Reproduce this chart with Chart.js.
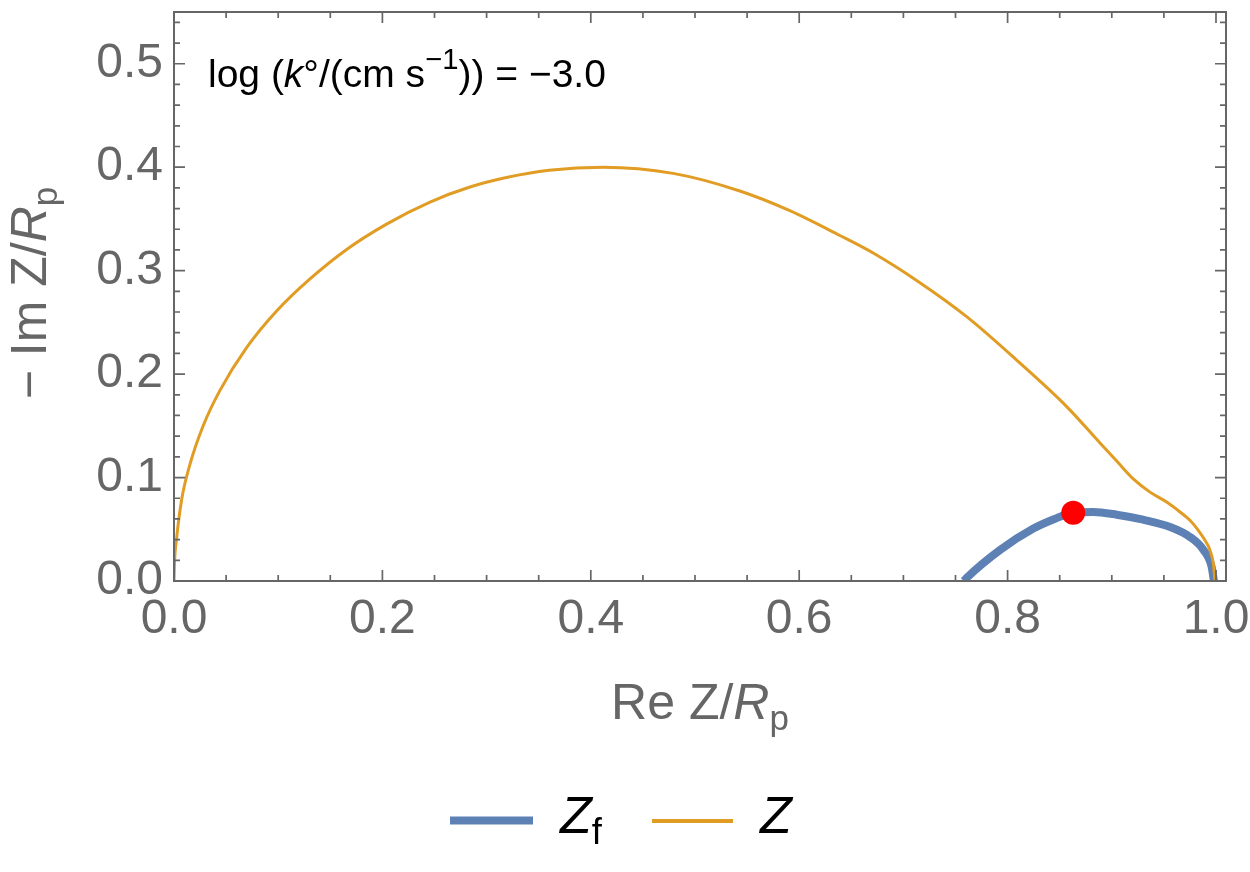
<!DOCTYPE html>
<html><head><meta charset="utf-8">
<script src="https://cdn.jsdelivr.net/npm/chart.js@4"></script>
<style>html,body{margin:0;padding:0;background:#fff}#wrap{width:1250px;height:872px}</style>
</head><body><div id="wrap"><canvas id="c" width="1250" height="872"></canvas></div>
<script>
// ---- data ----
const zRe = [0, 0.0005, 0.0026, 0.0074, 0.0154, 0.028, 0.044, 0.070, 0.0985, 0.1305, 0.1657, 0.204, 0.2457, 0.284, 0.319, 0.36, 0.412, 0.479, 0.543, 0.591, 0.639, 0.671, 0.7127, 0.7607, 0.8087, 0.8567, 0.8887, 0.9047, 0.9206, 0.9367, 0.9527, 0.9655, 0.975, 0.983, 0.9894, 0.9942, 0.9974, 0.999];
const zIm = [0, 0.018, 0.042, 0.079, 0.113, 0.150, 0.184, 0.226, 0.261, 0.292, 0.3205, 0.345, 0.3663, 0.3808, 0.390, 0.397, 0.400, 0.394, 0.377, 0.358, 0.334, 0.317, 0.2905, 0.2555, 0.2135, 0.1686, 0.1334, 0.116, 0.0987, 0.0859, 0.0763, 0.0667, 0.0587, 0.049, 0.0394, 0.0298, 0.017, 0];
const zfRe = [0.758, 0.7607, 0.7927, 0.8247, 0.845, 0.863, 0.882, 0.9047, 0.930, 0.956, 0.975, 0.988, 0.9958, 0.998];
const zfIm = [0, 0.003, 0.030, 0.0507, 0.060, 0.066, 0.0667, 0.0641, 0.0593, 0.0522, 0.0426, 0.030, 0.0138, 0];
const markerRe = [0.863];
const markerIm = [0.066];
const xTickValues = [0, 0.2, 0.4, 0.6, 0.8, 1.0];
const yTickValues = [0, 0.1, 0.2, 0.3, 0.4, 0.5];
const xMinorValues = [0.05,0.1,0.15,0.25,0.3,0.35,0.45,0.5,0.55,0.65,0.7,0.75,0.85,0.9,0.95];
const yMinorValues = [0.02,0.04,0.06,0.08,0.12,0.14,0.16,0.18,0.22,0.24,0.26,0.28,0.32,0.34,0.36,0.38,0.42,0.44,0.46,0.48,0.52,0.54];
const seriesNames = ['Zf', 'Z'];

const FONT = '"Liberation Sans", Arial, sans-serif';
const GRAY = '#666666';
const BLUE = '#5E81B5';
const ORANGE = '#E19C24';

const pts = (xs, ys) => xs.map((x, i) => ({x, y: ys[i]}));

function richWidth(ctx, parts, size) {
  let w = 0;
  for (const p of parts) {
    const s = (p.sub || p.sup) ? size * (p.scale || 0.7) : size;
    ctx.font = (p.it ? 'italic ' : '') + s + 'px ' + FONT;
    w += ctx.measureText(p.t).width;
  }
  return w;
}
function drawRich(ctx, parts, x, y, size, color, align) {
  let cx = x;
  if (align === 'center') cx = x - richWidth(ctx, parts, size) / 2;
  ctx.fillStyle = color;
  ctx.textBaseline = 'alphabetic';
  ctx.textAlign = 'left';
  for (const p of parts) {
    const s = (p.sub || p.sup) ? size * (p.scale || 0.7) : size;
    ctx.font = (p.it ? 'italic ' : '') + s + 'px ' + FONT;
    const dy = p.sub ? size * 0.22 : (p.sup ? -size * 0.47 : 0);
    ctx.fillText(p.t, cx, y + dy);
    cx += ctx.measureText(p.t).width;
  }
}

const decor = {
  id: 'decor',
  afterDatasetsDraw(chart) {
    const {ctx, chartArea: a, scales: {x, y}} = chart;
    ctx.save();
    ctx.strokeStyle = GRAY;
    ctx.lineWidth = 2;
    ctx.strokeRect(a.left, a.top, a.right - a.left, a.bottom - a.top);
    ctx.lineWidth = 1.7;
    ctx.beginPath();
    const tickX = (v, len) => { const px = x.getPixelForValue(v);
      ctx.moveTo(px, a.bottom); ctx.lineTo(px, a.bottom - len);
      ctx.moveTo(px, a.top); ctx.lineTo(px, a.top + len); };
    const tickY = (v, len) => { const py = y.getPixelForValue(v);
      ctx.moveTo(a.left, py); ctx.lineTo(a.left + len, py);
      ctx.moveTo(a.right, py); ctx.lineTo(a.right - len, py); };
    xTickValues.forEach(v => tickX(v, 11));
    xMinorValues.forEach(v => tickX(v, 6));
    yTickValues.forEach(v => tickY(v, 11));
    yMinorValues.forEach(v => tickY(v, 6));
    ctx.stroke();
    ctx.restore();
  },
  afterDraw(chart) {
    const {ctx, chartArea: a} = chart;
    ctx.save();
    // axis titles
    drawRich(ctx, [{t: 'Re Z/'}, {t: 'R', it: 1}, {t: 'p', sub: 1}], (a.left + a.right) / 2, 719, 50, GRAY, 'center');
    ctx.save();
    ctx.translate(46, 293);
    ctx.rotate(-Math.PI / 2);
    drawRich(ctx, [{t: '\u2212 Im Z/'}, {t: 'R', it: 1}, {t: 'p', sub: 1}], 0, 0, 50, GRAY, 'center');
    ctx.restore();
    // annotation
    drawRich(ctx, [{t: 'log ('}, {t: 'k', it: 1}, {t: '\u00b0/(cm s'}, {t: '\u22121', sup: 1, scale: 0.75}, {t: ')) = \u22123.0'}], 208, 87, 39, '#000', 'left');
    // legend
    ctx.lineCap = 'butt';
    ctx.strokeStyle = BLUE; ctx.lineWidth = 8;
    ctx.beginPath(); ctx.moveTo(450, 820.5); ctx.lineTo(533, 820.5); ctx.stroke();
    drawRich(ctx, [{t: 'Z', it: 1}, {t: 'f', sub: 1}], 560, 833, 52, '#000', 'left');
    ctx.strokeStyle = ORANGE; ctx.lineWidth = 4;
    ctx.beginPath(); ctx.moveTo(652, 821); ctx.lineTo(733, 821); ctx.stroke();
    drawRich(ctx, [{t: 'Z', it: 1}], 760, 833, 52, '#000', 'left');
    ctx.restore();
  }
};

new Chart(document.getElementById('c'), {
  type: 'scatter',
  data: {
    datasets: [
      {label: 'marker', data: pts(markerRe, markerIm), showLine: false, pointRadius: 12, pointBackgroundColor: '#FF0000', pointBorderWidth: 0, order: 0},
      {label: seriesNames[1], data: pts(zRe, zIm), showLine: true, borderColor: ORANGE, borderWidth: 3, pointRadius: 0, cubicInterpolationMode: 'monotone', clip: 0, order: 1},
      {label: seriesNames[0], data: pts(zfRe, zfIm), showLine: true, borderColor: BLUE, borderWidth: 8, pointRadius: 0, cubicInterpolationMode: 'monotone', clip: 0, order: 2}
    ]
  },
  options: {
    responsive: false, animation: false, devicePixelRatio: 1,
    layout: {padding: {left: 0, top: 9, right: 24, bottom: 0}},
    plugins: {legend: {display: false}, tooltip: {enabled: false}},
    scales: {
      x: {
        type: 'linear', min: 0, max: 1.0096,
        grid: {display: false, drawTicks: false}, border: {display: false},
        afterBuildTicks: s => { s.ticks = xTickValues.map(v => ({value: v})); },
        afterFit: s => { s.height = 291; s.paddingLeft = 0; s.paddingRight = 0; },
        ticks: {padding: 10, color: GRAY, font: {family: FONT, size: 48}, maxRotation: 0, callback: v => v.toFixed(1)}
      },
      y: {
        type: 'linear', min: 0, max: 0.55,
        grid: {display: false, drawTicks: false}, border: {display: false},
        afterBuildTicks: s => { s.ticks = yTickValues.map(v => ({value: v})); },
        afterFit: s => { s.width = 174; s.paddingTop = 0; s.paddingBottom = 0; },
        ticks: {padding: 11, color: GRAY, font: {family: FONT, size: 48}, callback: v => v.toFixed(1)}
      }
    }
  },
  plugins: [decor]
});
</script></body></html>
